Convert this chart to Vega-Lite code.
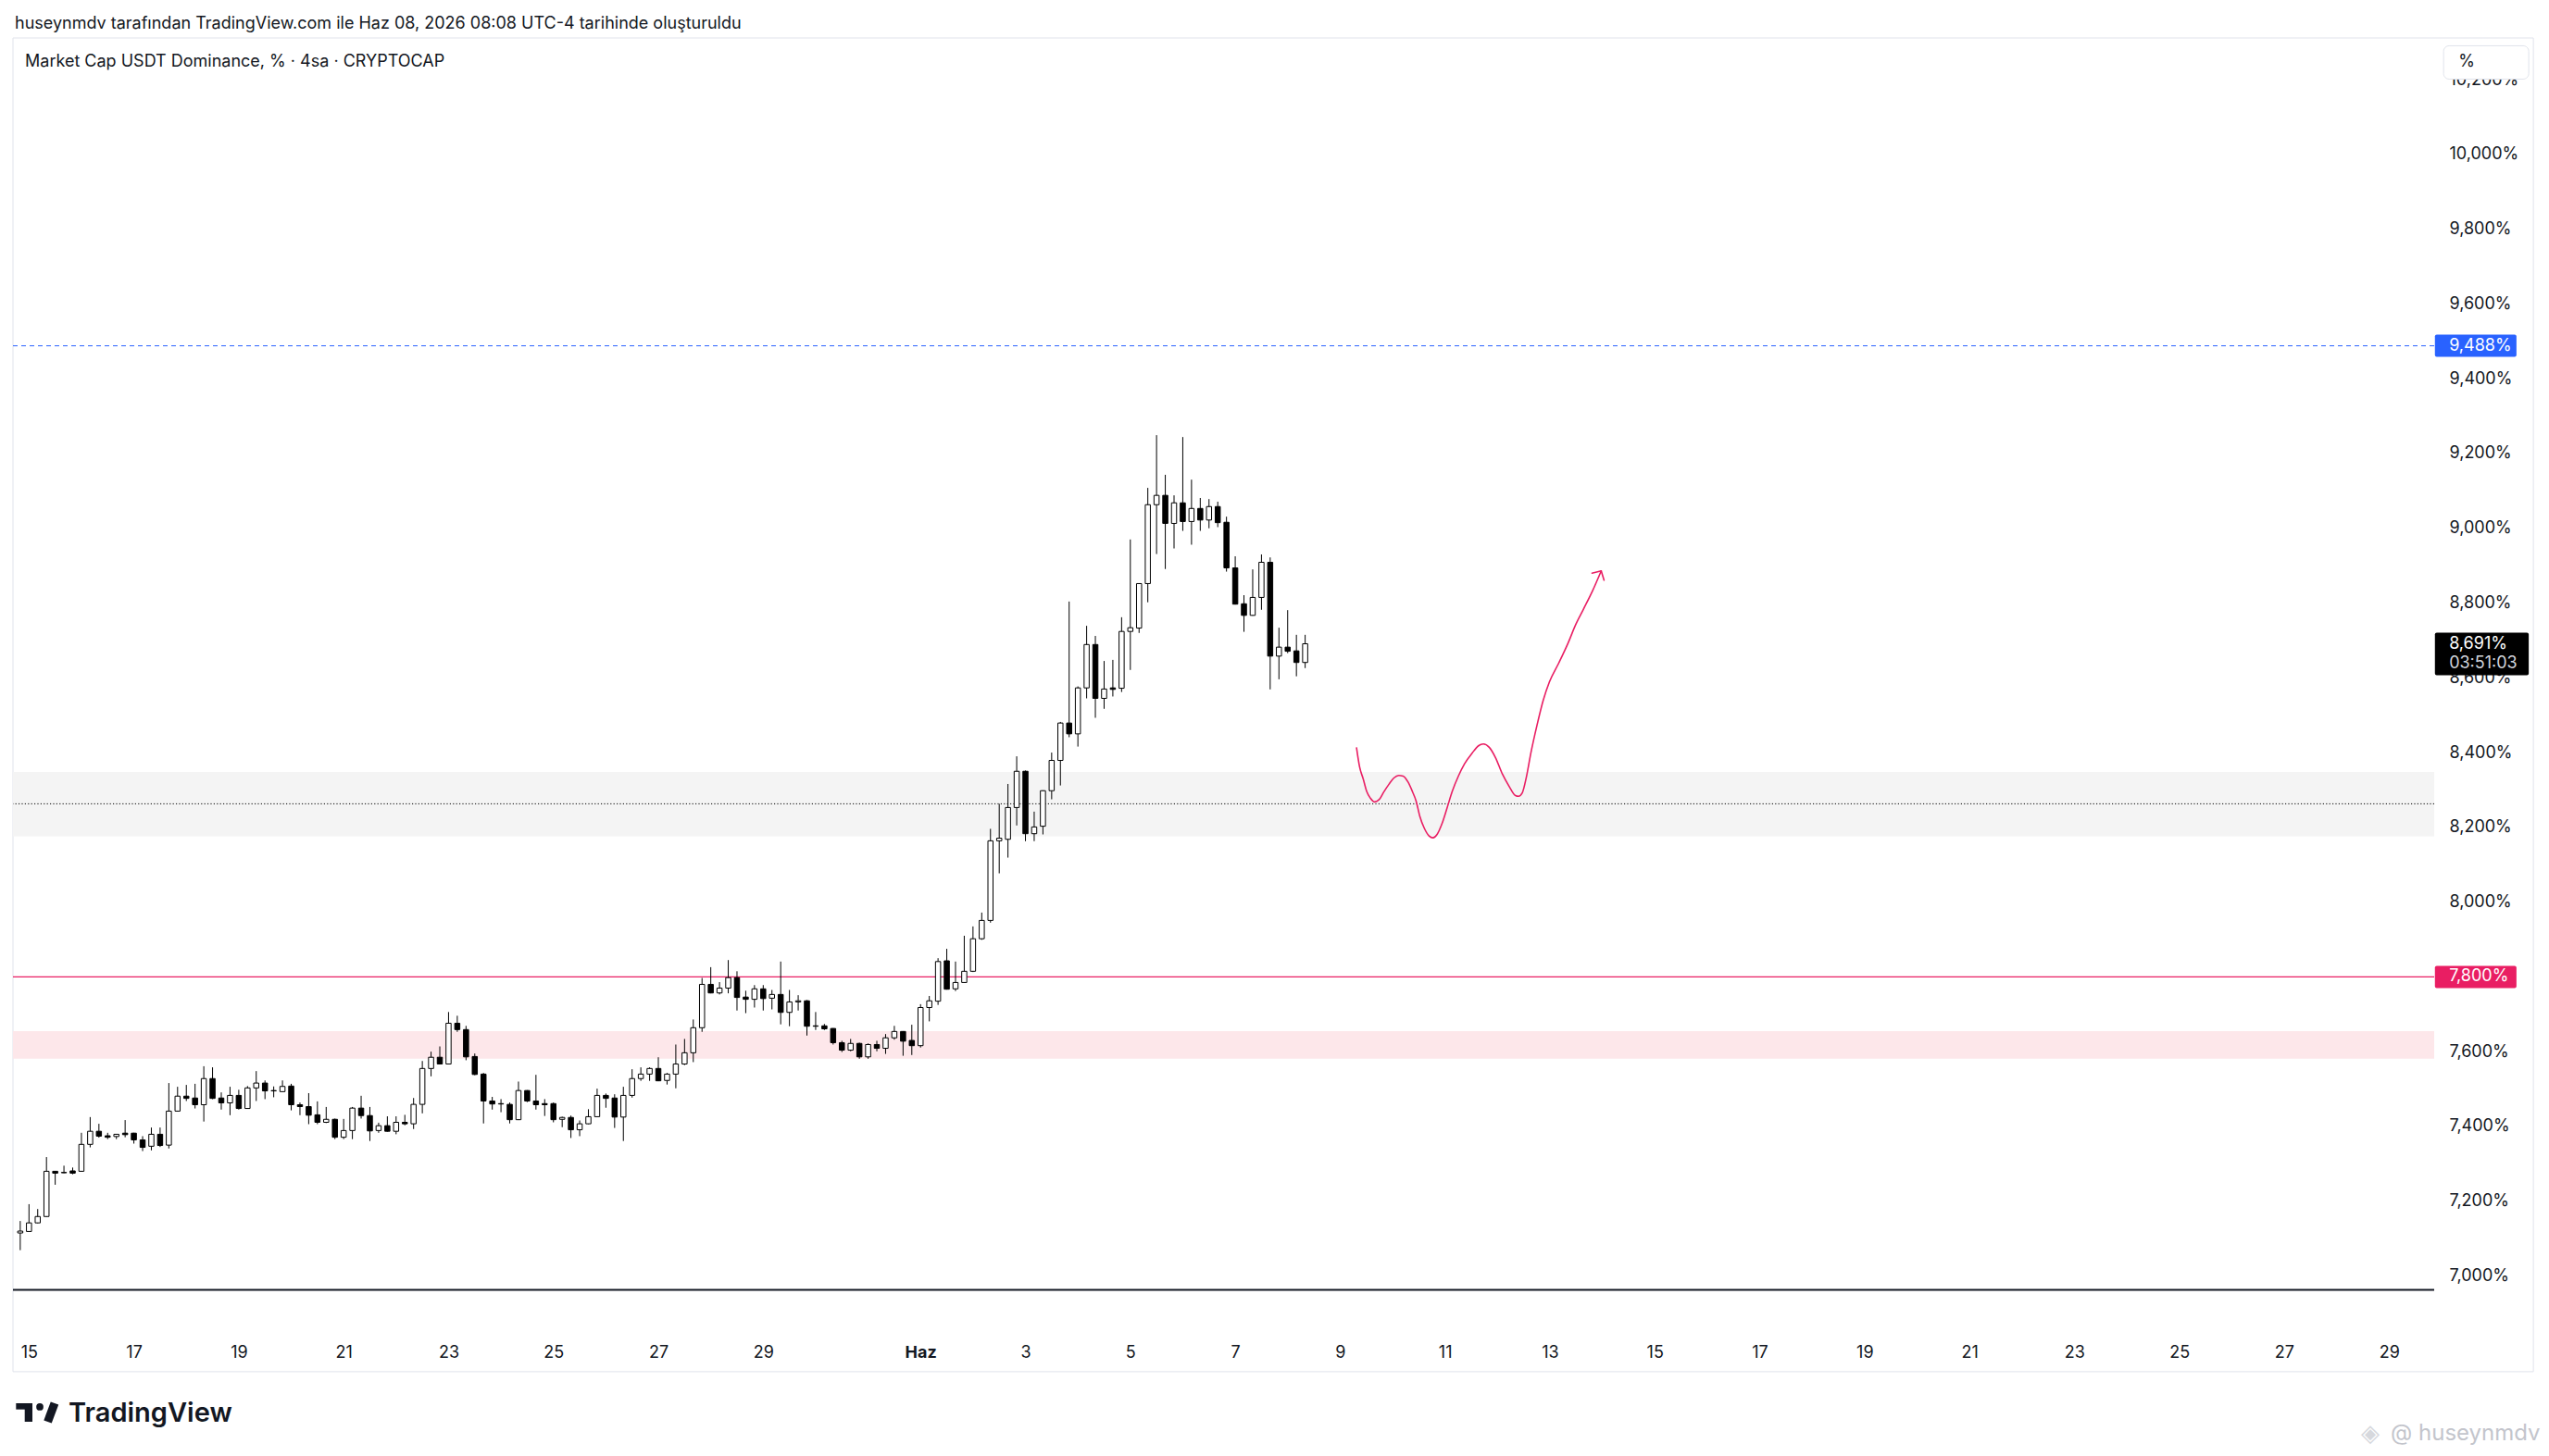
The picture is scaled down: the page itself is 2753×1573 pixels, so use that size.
{
  "$schema": "https://vega.github.io/schema/vega-lite/v6.json",
  "description": "Market Cap USDT Dominance, 4h candles with drawn zones and levels",
  "width": 2615,
  "height": 1390,
  "autosize": "none",
  "padding": {"left": 14, "top": 41, "right": 124, "bottom": 142},
  "background": "#ffffff",
  "title": {
    "text": "huseynmdv tarafından TradingView.com ile Haz 08, 2026 08:08 UTC-4 tarihinde oluşturuldu",
    "anchor": "start",
    "frame": "group",
    "fontSize": 18,
    "fontWeight": "normal",
    "color": "#131722",
    "offset": 6,
    "dx": 2
  },
  "config": {"view": {"stroke": null}, "font": "Inter"},
  "datasets": {
    "candles": [
      {"t":"2026-05-14T20:00Z","o":7.115,"h":7.147,"l":7.069,"c":7.120},
      {"t":"2026-05-15T00:00Z","o":7.119,"h":7.192,"l":7.118,"c":7.142},
      {"t":"2026-05-15T04:00Z","o":7.142,"h":7.179,"l":7.141,"c":7.159},
      {"t":"2026-05-15T08:00Z","o":7.159,"h":7.318,"l":7.158,"c":7.280},
      {"t":"2026-05-15T12:00Z","o":7.280,"h":7.281,"l":7.244,"c":7.275},
      {"t":"2026-05-15T16:00Z","o":7.276,"h":7.295,"l":7.275,"c":7.277},
      {"t":"2026-05-15T20:00Z","o":7.281,"h":7.290,"l":7.272,"c":7.275},
      {"t":"2026-05-16T00:00Z","o":7.280,"h":7.383,"l":7.279,"c":7.352},
      {"t":"2026-05-16T04:00Z","o":7.352,"h":7.425,"l":7.344,"c":7.387},
      {"t":"2026-05-16T08:00Z","o":7.387,"h":7.407,"l":7.370,"c":7.374},
      {"t":"2026-05-16T12:00Z","o":7.375,"h":7.383,"l":7.366,"c":7.371},
      {"t":"2026-05-16T16:00Z","o":7.373,"h":7.380,"l":7.366,"c":7.379},
      {"t":"2026-05-16T20:00Z","o":7.382,"h":7.417,"l":7.371,"c":7.378},
      {"t":"2026-05-17T00:00Z","o":7.382,"h":7.383,"l":7.354,"c":7.364},
      {"t":"2026-05-17T04:00Z","o":7.364,"h":7.374,"l":7.334,"c":7.344},
      {"t":"2026-05-17T08:00Z","o":7.347,"h":7.397,"l":7.336,"c":7.379},
      {"t":"2026-05-17T12:00Z","o":7.379,"h":7.397,"l":7.345,"c":7.349},
      {"t":"2026-05-17T16:00Z","o":7.350,"h":7.516,"l":7.341,"c":7.441},
      {"t":"2026-05-17T20:00Z","o":7.441,"h":7.506,"l":7.440,"c":7.481},
      {"t":"2026-05-18T00:00Z","o":7.481,"h":7.511,"l":7.468,"c":7.475},
      {"t":"2026-05-18T04:00Z","o":7.476,"h":7.514,"l":7.448,"c":7.458},
      {"t":"2026-05-18T08:00Z","o":7.458,"h":7.561,"l":7.413,"c":7.528},
      {"t":"2026-05-18T12:00Z","o":7.528,"h":7.558,"l":7.473,"c":7.475},
      {"t":"2026-05-18T16:00Z","o":7.476,"h":7.491,"l":7.445,"c":7.463},
      {"t":"2026-05-18T20:00Z","o":7.463,"h":7.506,"l":7.430,"c":7.483},
      {"t":"2026-05-19T00:00Z","o":7.483,"h":7.498,"l":7.445,"c":7.448},
      {"t":"2026-05-19T04:00Z","o":7.448,"h":7.508,"l":7.447,"c":7.503},
      {"t":"2026-05-19T08:00Z","o":7.503,"h":7.548,"l":7.468,"c":7.516},
      {"t":"2026-05-19T12:00Z","o":7.516,"h":7.523,"l":7.473,"c":7.495},
      {"t":"2026-05-19T16:00Z","o":7.495,"h":7.507,"l":7.478,"c":7.496},
      {"t":"2026-05-19T20:00Z","o":7.493,"h":7.523,"l":7.492,"c":7.507},
      {"t":"2026-05-20T00:00Z","o":7.508,"h":7.514,"l":7.443,"c":7.458},
      {"t":"2026-05-20T04:00Z","o":7.458,"h":7.464,"l":7.430,"c":7.453},
      {"t":"2026-05-20T08:00Z","o":7.453,"h":7.489,"l":7.406,"c":7.430},
      {"t":"2026-05-20T12:00Z","o":7.431,"h":7.467,"l":7.406,"c":7.411},
      {"t":"2026-05-20T16:00Z","o":7.411,"h":7.452,"l":7.409,"c":7.419},
      {"t":"2026-05-20T20:00Z","o":7.419,"h":7.421,"l":7.366,"c":7.371},
      {"t":"2026-05-21T00:00Z","o":7.371,"h":7.420,"l":7.366,"c":7.389},
      {"t":"2026-05-21T04:00Z","o":7.389,"h":7.452,"l":7.366,"c":7.449},
      {"t":"2026-05-21T08:00Z","o":7.449,"h":7.482,"l":7.421,"c":7.429},
      {"t":"2026-05-21T12:00Z","o":7.429,"h":7.452,"l":7.361,"c":7.388},
      {"t":"2026-05-21T16:00Z","o":7.389,"h":7.410,"l":7.383,"c":7.402},
      {"t":"2026-05-21T20:00Z","o":7.402,"h":7.427,"l":7.386,"c":7.387},
      {"t":"2026-05-22T00:00Z","o":7.387,"h":7.427,"l":7.379,"c":7.411},
      {"t":"2026-05-22T04:00Z","o":7.411,"h":7.431,"l":7.403,"c":7.407},
      {"t":"2026-05-22T08:00Z","o":7.407,"h":7.476,"l":7.393,"c":7.459},
      {"t":"2026-05-22T12:00Z","o":7.459,"h":7.575,"l":7.435,"c":7.555},
      {"t":"2026-05-22T16:00Z","o":7.555,"h":7.600,"l":7.534,"c":7.585},
      {"t":"2026-05-22T20:00Z","o":7.585,"h":7.614,"l":7.566,"c":7.567},
      {"t":"2026-05-23T00:00Z","o":7.567,"h":7.706,"l":7.566,"c":7.676},
      {"t":"2026-05-23T04:00Z","o":7.676,"h":7.696,"l":7.653,"c":7.659},
      {"t":"2026-05-23T08:00Z","o":7.659,"h":7.669,"l":7.577,"c":7.586},
      {"t":"2026-05-23T12:00Z","o":7.587,"h":7.595,"l":7.537,"c":7.539},
      {"t":"2026-05-23T16:00Z","o":7.540,"h":7.543,"l":7.408,"c":7.468},
      {"t":"2026-05-23T20:00Z","o":7.468,"h":7.479,"l":7.445,"c":7.460},
      {"t":"2026-05-24T00:00Z","o":7.460,"h":7.473,"l":7.438,"c":7.461},
      {"t":"2026-05-24T04:00Z","o":7.459,"h":7.464,"l":7.408,"c":7.418},
      {"t":"2026-05-24T08:00Z","o":7.418,"h":7.520,"l":7.417,"c":7.496},
      {"t":"2026-05-24T12:00Z","o":7.496,"h":7.497,"l":7.465,"c":7.468},
      {"t":"2026-05-24T16:00Z","o":7.468,"h":7.538,"l":7.445,"c":7.458},
      {"t":"2026-05-24T20:00Z","o":7.461,"h":7.473,"l":7.428,"c":7.458},
      {"t":"2026-05-25T00:00Z","o":7.461,"h":7.464,"l":7.411,"c":7.418},
      {"t":"2026-05-25T04:00Z","o":7.419,"h":7.426,"l":7.398,"c":7.424},
      {"t":"2026-05-25T08:00Z","o":7.424,"h":7.429,"l":7.369,"c":7.391},
      {"t":"2026-05-25T12:00Z","o":7.391,"h":7.416,"l":7.374,"c":7.407},
      {"t":"2026-05-25T16:00Z","o":7.407,"h":7.446,"l":7.406,"c":7.426},
      {"t":"2026-05-25T20:00Z","o":7.426,"h":7.501,"l":7.425,"c":7.483},
      {"t":"2026-05-26T00:00Z","o":7.483,"h":7.488,"l":7.450,"c":7.475},
      {"t":"2026-05-26T04:00Z","o":7.476,"h":7.486,"l":7.396,"c":7.425},
      {"t":"2026-05-26T08:00Z","o":7.425,"h":7.506,"l":7.361,"c":7.483},
      {"t":"2026-05-26T12:00Z","o":7.483,"h":7.553,"l":7.477,"c":7.528},
      {"t":"2026-05-26T16:00Z","o":7.528,"h":7.558,"l":7.522,"c":7.540},
      {"t":"2026-05-26T20:00Z","o":7.540,"h":7.558,"l":7.522,"c":7.555},
      {"t":"2026-05-27T00:00Z","o":7.555,"h":7.585,"l":7.521,"c":7.522},
      {"t":"2026-05-27T04:00Z","o":7.523,"h":7.543,"l":7.512,"c":7.540},
      {"t":"2026-05-27T08:00Z","o":7.540,"h":7.619,"l":7.502,"c":7.567},
      {"t":"2026-05-27T12:00Z","o":7.567,"h":7.634,"l":7.564,"c":7.597},
      {"t":"2026-05-27T16:00Z","o":7.597,"h":7.686,"l":7.572,"c":7.664},
      {"t":"2026-05-27T20:00Z","o":7.664,"h":7.797,"l":7.653,"c":7.780},
      {"t":"2026-05-28T00:00Z","o":7.780,"h":7.826,"l":7.756,"c":7.757},
      {"t":"2026-05-28T04:00Z","o":7.757,"h":7.786,"l":7.753,"c":7.770},
      {"t":"2026-05-28T08:00Z","o":7.770,"h":7.845,"l":7.756,"c":7.798},
      {"t":"2026-05-28T12:00Z","o":7.798,"h":7.815,"l":7.710,"c":7.745},
      {"t":"2026-05-28T16:00Z","o":7.746,"h":7.763,"l":7.703,"c":7.740},
      {"t":"2026-05-28T20:00Z","o":7.740,"h":7.778,"l":7.718,"c":7.768},
      {"t":"2026-05-29T00:00Z","o":7.768,"h":7.778,"l":7.710,"c":7.742},
      {"t":"2026-05-29T04:00Z","o":7.743,"h":7.765,"l":7.713,"c":7.753},
      {"t":"2026-05-29T08:00Z","o":7.753,"h":7.841,"l":7.673,"c":7.705},
      {"t":"2026-05-29T12:00Z","o":7.705,"h":7.765,"l":7.668,"c":7.733},
      {"t":"2026-05-29T16:00Z","o":7.733,"h":7.751,"l":7.710,"c":7.736},
      {"t":"2026-05-29T20:00Z","o":7.736,"h":7.738,"l":7.643,"c":7.668},
      {"t":"2026-05-30T00:00Z","o":7.668,"h":7.706,"l":7.658,"c":7.669},
      {"t":"2026-05-30T04:00Z","o":7.669,"h":7.674,"l":7.658,"c":7.661},
      {"t":"2026-05-30T08:00Z","o":7.662,"h":7.663,"l":7.619,"c":7.624},
      {"t":"2026-05-30T12:00Z","o":7.624,"h":7.629,"l":7.599,"c":7.604},
      {"t":"2026-05-30T16:00Z","o":7.604,"h":7.634,"l":7.601,"c":7.622},
      {"t":"2026-05-30T20:00Z","o":7.622,"h":7.624,"l":7.581,"c":7.586},
      {"t":"2026-05-31T00:00Z","o":7.586,"h":7.622,"l":7.581,"c":7.619},
      {"t":"2026-05-31T04:00Z","o":7.619,"h":7.629,"l":7.601,"c":7.609},
      {"t":"2026-05-31T08:00Z","o":7.609,"h":7.647,"l":7.594,"c":7.637},
      {"t":"2026-05-31T12:00Z","o":7.637,"h":7.669,"l":7.632,"c":7.654},
      {"t":"2026-05-31T16:00Z","o":7.654,"h":7.655,"l":7.589,"c":7.628},
      {"t":"2026-05-31T20:00Z","o":7.630,"h":7.672,"l":7.591,"c":7.616},
      {"t":"2026-06-01T00:00Z","o":7.616,"h":7.727,"l":7.611,"c":7.718},
      {"t":"2026-06-01T04:00Z","o":7.718,"h":7.749,"l":7.681,"c":7.736},
      {"t":"2026-06-01T08:00Z","o":7.735,"h":7.850,"l":7.725,"c":7.841},
      {"t":"2026-06-01T12:00Z","o":7.843,"h":7.875,"l":7.766,"c":7.767},
      {"t":"2026-06-01T16:00Z","o":7.768,"h":7.841,"l":7.762,"c":7.785},
      {"t":"2026-06-01T20:00Z","o":7.785,"h":7.910,"l":7.784,"c":7.815},
      {"t":"2026-06-02T00:00Z","o":7.815,"h":7.935,"l":7.813,"c":7.902},
      {"t":"2026-06-02T04:00Z","o":7.902,"h":7.972,"l":7.899,"c":7.951},
      {"t":"2026-06-02T08:00Z","o":7.951,"h":8.196,"l":7.945,"c":8.164},
      {"t":"2026-06-02T12:00Z","o":8.164,"h":8.263,"l":8.077,"c":8.171},
      {"t":"2026-06-02T16:00Z","o":8.168,"h":8.316,"l":8.119,"c":8.253},
      {"t":"2026-06-02T20:00Z","o":8.253,"h":8.390,"l":8.205,"c":8.350},
      {"t":"2026-06-03T00:00Z","o":8.350,"h":8.352,"l":8.163,"c":8.183},
      {"t":"2026-06-03T04:00Z","o":8.183,"h":8.242,"l":8.163,"c":8.201},
      {"t":"2026-06-03T08:00Z","o":8.203,"h":8.299,"l":8.181,"c":8.298},
      {"t":"2026-06-03T12:00Z","o":8.298,"h":8.400,"l":8.275,"c":8.379},
      {"t":"2026-06-03T16:00Z","o":8.379,"h":8.482,"l":8.312,"c":8.479},
      {"t":"2026-06-03T20:00Z","o":8.479,"h":8.804,"l":8.441,"c":8.450},
      {"t":"2026-06-04T00:00Z","o":8.450,"h":8.577,"l":8.416,"c":8.573},
      {"t":"2026-06-04T04:00Z","o":8.573,"h":8.739,"l":8.545,"c":8.689},
      {"t":"2026-06-04T08:00Z","o":8.689,"h":8.712,"l":8.493,"c":8.545},
      {"t":"2026-06-04T12:00Z","o":8.545,"h":8.645,"l":8.517,"c":8.570},
      {"t":"2026-06-04T16:00Z","o":8.573,"h":8.648,"l":8.550,"c":8.569},
      {"t":"2026-06-04T20:00Z","o":8.572,"h":8.762,"l":8.562,"c":8.724},
      {"t":"2026-06-05T00:00Z","o":8.724,"h":8.970,"l":8.621,"c":8.734},
      {"t":"2026-06-05T04:00Z","o":8.733,"h":8.853,"l":8.720,"c":8.852},
      {"t":"2026-06-05T08:00Z","o":8.852,"h":9.108,"l":8.802,"c":9.063},
      {"t":"2026-06-05T12:00Z","o":9.063,"h":9.249,"l":8.931,"c":9.088},
      {"t":"2026-06-05T16:00Z","o":9.088,"h":9.143,"l":8.891,"c":9.013},
      {"t":"2026-06-05T20:00Z","o":9.013,"h":9.088,"l":8.946,"c":9.068},
      {"t":"2026-06-06T00:00Z","o":9.068,"h":9.244,"l":8.993,"c":9.018},
      {"t":"2026-06-06T04:00Z","o":9.018,"h":9.130,"l":8.956,"c":9.053},
      {"t":"2026-06-06T08:00Z","o":9.053,"h":9.081,"l":8.993,"c":9.022},
      {"t":"2026-06-06T12:00Z","o":9.022,"h":9.078,"l":9.000,"c":9.058},
      {"t":"2026-06-06T16:00Z","o":9.058,"h":9.071,"l":9.003,"c":9.015},
      {"t":"2026-06-06T20:00Z","o":9.016,"h":9.031,"l":8.884,"c":8.894},
      {"t":"2026-06-07T00:00Z","o":8.894,"h":8.925,"l":8.796,"c":8.797},
      {"t":"2026-06-07T04:00Z","o":8.798,"h":8.821,"l":8.723,"c":8.767},
      {"t":"2026-06-07T08:00Z","o":8.767,"h":8.890,"l":8.766,"c":8.815},
      {"t":"2026-06-07T12:00Z","o":8.815,"h":8.930,"l":8.782,"c":8.909},
      {"t":"2026-06-07T16:00Z","o":8.909,"h":8.922,"l":8.569,"c":8.658},
      {"t":"2026-06-07T20:00Z","o":8.658,"h":8.734,"l":8.596,"c":8.682},
      {"t":"2026-06-08T00:00Z","o":8.682,"h":8.781,"l":8.666,"c":8.671},
      {"t":"2026-06-08T04:00Z","o":8.672,"h":8.715,"l":8.604,"c":8.641},
      {"t":"2026-06-08T08:00Z","o":8.641,"h":8.715,"l":8.626,"c":8.691}
    ],
    "curve": [
      {"t":"2026-06-09T07:29Z","v":8.414},
      {"t":"2026-06-09T08:54Z","v":8.362},
      {"t":"2026-06-09T10:36Z","v":8.329},
      {"t":"2026-06-09T12:10Z","v":8.296},
      {"t":"2026-06-09T13:51Z","v":8.278},
      {"t":"2026-06-09T15:42Z","v":8.268},
      {"t":"2026-06-09T17:49Z","v":8.274},
      {"t":"2026-06-09T19:55Z","v":8.294},
      {"t":"2026-06-09T22:19Z","v":8.315},
      {"t":"2026-06-10T00:35Z","v":8.332},
      {"t":"2026-06-10T02:51Z","v":8.339},
      {"t":"2026-06-10T04:50Z","v":8.337},
      {"t":"2026-06-10T07:05Z","v":8.321},
      {"t":"2026-06-10T09:04Z","v":8.296},
      {"t":"2026-06-10T10:45Z","v":8.271},
      {"t":"2026-06-10T12:27Z","v":8.230},
      {"t":"2026-06-10T14:34Z","v":8.197},
      {"t":"2026-06-10T16:42Z","v":8.177},
      {"t":"2026-06-10T18:31Z","v":8.172},
      {"t":"2026-06-10T20:22Z","v":8.181},
      {"t":"2026-06-10T22:38Z","v":8.210},
      {"t":"2026-06-11T00:54Z","v":8.251},
      {"t":"2026-06-11T03:18Z","v":8.296},
      {"t":"2026-06-11T06:07Z","v":8.337},
      {"t":"2026-06-11T08:57Z","v":8.370},
      {"t":"2026-06-11T12:28Z","v":8.399},
      {"t":"2026-06-11T15:17Z","v":8.418},
      {"t":"2026-06-11T17:33Z","v":8.423},
      {"t":"2026-06-11T20:14Z","v":8.414},
      {"t":"2026-06-11T23:04Z","v":8.387},
      {"t":"2026-06-12T02:18Z","v":8.342},
      {"t":"2026-06-12T05:25Z","v":8.309},
      {"t":"2026-06-12T08:15Z","v":8.285},
      {"t":"2026-06-12T09:39Z","v":8.283},
      {"t":"2026-06-12T11:21Z","v":8.292},
      {"t":"2026-06-12T13:11Z","v":8.333},
      {"t":"2026-06-12T15:18Z","v":8.399},
      {"t":"2026-06-12T18:08Z","v":8.474},
      {"t":"2026-06-12T20:57Z","v":8.540},
      {"t":"2026-06-12T23:46Z","v":8.589},
      {"t":"2026-06-13T04:01Z","v":8.639},
      {"t":"2026-06-13T08:15Z","v":8.692},
      {"t":"2026-06-13T11:47Z","v":8.742},
      {"t":"2026-06-13T15:19Z","v":8.783},
      {"t":"2026-06-13T19:33Z","v":8.833},
      {"t":"2026-06-13T23:29Z","v":8.886}
    ]
  },
  "layer": [
    {
      "data": {"values": [{"pane": "grafik"}]},
      "mark": {"type": "rect", "filled": false, "color": "#e0e3eb", "strokeWidth": 1},
      "encoding": {
        "x": {"datum": {"year": 2026, "month": 5, "date": 14, "hours": 16, "minutes": 40, "utc": true}, "type": "temporal", "title": null},
        "x2": {"datum": {"year": 2026, "month": 7, "date": 1, "hours": 18, "minutes": 3, "utc": true}},
        "y": {"datum": 10.3115, "type": "quantitative", "title": null},
        "y2": {"datum": 6.744}
      }
    },
    {
      "data": {"values": [
        {"zone": "gri", "lo": 8.176, "hi": 8.348},
        {"zone": "pembe", "lo": 7.581, "hi": 7.655}
      ]},
      "mark": {"type": "rect"},
      "encoding": {
        "x": {"datum": {"year": 2026, "month": 5, "date": 14, "hours": 16, "minutes": 40, "utc": true}, "type": "temporal", "title": null},
        "x2": {"datum": {"year": 2026, "month": 6, "date": 29, "hours": 20, "minutes": 40, "utc": true}},
        "y": {"field": "hi", "type": "quantitative", "title": null},
        "y2": {"field": "lo"},
        "fill": {"field": "zone", "type": "nominal", "scale": {"domain": ["gri", "pembe"], "range": ["#f4f4f4", "#fde7ea"]}, "legend": null}
      }
    },
    {
      "data": {"values": [{"v": 8.263}]},
      "mark": {"type": "rule", "color": "#000000", "strokeDash": [1.2, 2.2], "strokeWidth": 1},
      "encoding": {"y": {"field": "v", "type": "quantitative", "title": null}}
    },
    {
      "data": {"values": [{"v": 9.488}]},
      "mark": {"type": "rule", "color": "#2962ff", "strokeDash": [5, 4], "strokeWidth": 1},
      "encoding": {"y": {"field": "v", "type": "quantitative", "title": null}}
    },
    {
      "data": {"values": [{"v": 7.8}]},
      "mark": {"type": "rule", "color": "#e91e63", "strokeWidth": 1.2},
      "encoding": {"y": {"field": "v", "type": "quantitative", "title": null}}
    },
    {
      "data": {"values": [{"v": 6.963}]},
      "mark": {"type": "rule", "color": "#131722", "strokeWidth": 2},
      "encoding": {"y": {"field": "v", "type": "quantitative", "title": null}}
    },
    {
      "data": {"name": "candles"},
      "mark": {"type": "rule", "color": "#000000", "strokeWidth": 1},
      "encoding": {
        "x": {
          "field": "t",
          "type": "temporal",
          "title": null,
          "scale": {
            "domain": [
              {"year": 2026, "month": 5, "date": 14, "hours": 16, "minutes": 40, "utc": true},
              {"year": 2026, "month": 6, "date": 29, "hours": 20, "minutes": 40, "utc": true}
            ],
            "nice": false,
            "padding": 0
          },
          "axis": {
            "values": [
              {"year": 2026, "month": 5, "date": 15, "utc": true},
              {"year": 2026, "month": 5, "date": 17, "utc": true},
              {"year": 2026, "month": 5, "date": 19, "utc": true},
              {"year": 2026, "month": 5, "date": 21, "utc": true},
              {"year": 2026, "month": 5, "date": 23, "utc": true},
              {"year": 2026, "month": 5, "date": 25, "utc": true},
              {"year": 2026, "month": 5, "date": 27, "utc": true},
              {"year": 2026, "month": 5, "date": 29, "utc": true},
              {"year": 2026, "month": 6, "date": 1, "utc": true},
              {"year": 2026, "month": 6, "date": 3, "utc": true},
              {"year": 2026, "month": 6, "date": 5, "utc": true},
              {"year": 2026, "month": 6, "date": 7, "utc": true},
              {"year": 2026, "month": 6, "date": 9, "utc": true},
              {"year": 2026, "month": 6, "date": 11, "utc": true},
              {"year": 2026, "month": 6, "date": 13, "utc": true},
              {"year": 2026, "month": 6, "date": 15, "utc": true},
              {"year": 2026, "month": 6, "date": 17, "utc": true},
              {"year": 2026, "month": 6, "date": 19, "utc": true},
              {"year": 2026, "month": 6, "date": 21, "utc": true},
              {"year": 2026, "month": 6, "date": 23, "utc": true},
              {"year": 2026, "month": 6, "date": 25, "utc": true},
              {"year": 2026, "month": 6, "date": 27, "utc": true},
              {"year": 2026, "month": 6, "date": 29, "utc": true}
            ],
            "labelExpr": "utcdate(datum.value) == 1 ? 'Haz' : '' + utcdate(datum.value)",
            "labelFontWeight": {"condition": {"test": "utcdate(datum.value) == 1", "value": "bold"}, "value": "normal"},
            "labelFontSize": 18,
            "labelColor": "#131722",
            "labelPadding": 21,
            "labelOverlap": false,
            "labelFlush": false,
            "ticks": false,
            "domain": false,
            "grid": false,
            "title": null
          }
        },
        "y": {
          "field": "l",
          "type": "quantitative",
          "title": null,
          "scale": {"domain": [6.87, 10.3115], "nice": false, "zero": false, "padding": 0},
          "axis": {
            "orient": "right",
            "values": [7, 7.2, 7.4, 7.6, 7.8, 8, 8.2, 8.4, 8.6, 8.8, 9, 9.2, 9.4, 9.6, 9.8, 10, 10.2],
            "labelExpr": "replace(format(datum.value, '.3f'), '.', ',') + '%'",
            "labelFontSize": 18,
            "labelColor": "#131722",
            "labelAlign": "left",
            "labelPadding": 16,
            "ticks": false,
            "domain": false,
            "grid": false,
            "title": null
          }
        },
        "y2": {"field": "h"}
      }
    },
    {
      "data": {"name": "candles"},
      "mark": {"type": "bar", "size": 5.5, "stroke": "#000000", "strokeWidth": 1},
      "encoding": {
        "x": {"field": "t", "type": "temporal", "title": null},
        "y": {"field": "o", "type": "quantitative", "title": null},
        "y2": {"field": "c"},
        "fill": {"condition": {"test": "datum.c < datum.o", "value": "#000000"}, "value": "#ffffff"}
      }
    },
    {
      "data": {"name": "curve"},
      "mark": {"type": "line", "color": "#e91e63", "strokeWidth": 1.6, "interpolate": "monotone"},
      "encoding": {
        "x": {"field": "t", "type": "temporal", "title": null},
        "y": {"field": "v", "type": "quantitative", "title": null}
      }
    },
    {
      "data": {"values": [
        {"t": "2026-06-13T23:29Z", "v": 8.886, "t2": "2026-06-13T19:16Z", "v2": 8.880},
        {"t": "2026-06-13T23:29Z", "v": 8.886, "t2": "2026-06-14T00:46Z", "v2": 8.861}
      ]},
      "mark": {"type": "rule", "color": "#e91e63", "strokeWidth": 1.6, "strokeCap": "round"},
      "encoding": {
        "x": {"field": "t", "type": "temporal", "title": null},
        "x2": {"field": "t2"},
        "y": {"field": "v", "type": "quantitative", "title": null},
        "y2": {"field": "v2"}
      }
    },
    {
      "data": {"values": [{"metin": "Market Cap USDT Dominance, % · 4sa · CRYPTOCAP"}]},
      "mark": {"type": "text", "align": "left", "baseline": "middle", "fontSize": 18, "color": "#131722"},
      "encoding": {
        "x": {"datum": {"year": 2026, "month": 5, "date": 14, "hours": 22, "minutes": 11, "utc": true}, "type": "temporal", "title": null},
        "y": {"datum": 10.246, "type": "quantitative", "title": null},
        "text": {"field": "metin"}
      }
    },
    {
      "data": {"values": [{"parca": "logo"}]},
      "layer": [
        {
          "mark": {"type": "rect", "color": "#131722"},
          "encoding": {
            "x": {"datum": {"year": 2026, "month": 5, "date": 14, "hours": 18, "minutes": 4, "utc": true}, "type": "temporal", "title": null},
            "x2": {"datum": {"year": 2026, "month": 5, "date": 15, "hours": 1, "minutes": 34, "utc": true}},
            "y": {"datum": 6.6596, "type": "quantitative", "title": null},
            "y2": {"datum": 6.643}
          }
        },
        {
          "mark": {"type": "rect", "color": "#131722"},
          "encoding": {
            "x": {"datum": {"year": 2026, "month": 5, "date": 14, "hours": 22, "minutes": 3, "utc": true}, "type": "temporal", "title": null},
            "x2": {"datum": {"year": 2026, "month": 5, "date": 15, "hours": 1, "minutes": 34, "utc": true}},
            "y": {"datum": 6.6596, "type": "quantitative", "title": null},
            "y2": {"datum": 6.61}
          }
        },
        {
          "mark": {"type": "point", "filled": true, "size": 60, "color": "#131722", "opacity": 1},
          "encoding": {
            "x": {"datum": {"year": 2026, "month": 5, "date": 15, "hours": 4, "minutes": 58, "utc": true}, "type": "temporal", "title": null},
            "y": {"datum": 6.6497, "type": "quantitative", "title": null}
          }
        },
        {
          "mark": {"type": "rule", "color": "#131722", "strokeWidth": 9, "strokeCap": "butt"},
          "encoding": {
            "x": {"datum": {"year": 2026, "month": 5, "date": 15, "hours": 11, "minutes": 44, "utc": true}, "type": "temporal", "title": null},
            "x2": {"datum": {"year": 2026, "month": 5, "date": 15, "hours": 8, "minutes": 34, "utc": true}},
            "y": {"datum": 6.6596, "type": "quantitative", "title": null},
            "y2": {"datum": 6.61}
          }
        }
      ]
    },
    {
      "data": {"values": [{"metin": "TradingView"}]},
      "mark": {"type": "text", "align": "left", "baseline": "middle", "fontSize": 29, "fontWeight": 600, "color": "#131722"},
      "encoding": {
        "x": {"datum": {"year": 2026, "month": 5, "date": 15, "hours": 18, "minutes": 6, "utc": true}, "type": "temporal", "title": null},
        "y": {"datum": 6.632, "type": "quantitative", "title": null},
        "text": {"field": "metin"}
      }
    },
    {
      "data": {"values": [{"metin": "@ huseynmdv", "simge": "◈"}]},
      "layer": [
        {
          "mark": {"type": "text", "align": "left", "baseline": "middle", "fontSize": 24, "color": "#c3c5cc"},
          "encoding": {
            "x": {"datum": {"year": 2026, "month": 6, "date": 29, "hours": 0, "minutes": 48, "utc": true}, "type": "temporal", "title": null},
            "y": {"datum": 6.578, "type": "quantitative", "title": null},
            "text": {"field": "metin"}
          }
        },
        {
          "mark": {"type": "text", "align": "center", "baseline": "middle", "fontSize": 26, "font": "DejaVu Sans", "color": "#d6d8dd"},
          "encoding": {
            "x": {"datum": {"year": 2026, "month": 6, "date": 28, "hours": 15, "minutes": 29, "utc": true}, "type": "temporal", "title": null},
            "y": {"datum": 6.578, "type": "quantitative", "title": null},
            "text": {"field": "simge"}
          }
        }
      ]
    },
    {
      "data": {"values": [
        {"v": 9.488, "etiket": "9,488%", "renk": "mavi"},
        {"v": 7.8, "etiket": "7,800%", "renk": "pembe"}
      ]},
      "layer": [
        {
          "mark": {"type": "bar", "size": 24, "cornerRadius": 2},
          "encoding": {
            "x": {"datum": {"year": 2026, "month": 6, "date": 29, "hours": 21, "minutes": 0, "utc": true}, "type": "temporal", "title": null},
            "x2": {"datum": {"year": 2026, "month": 7, "date": 1, "hours": 10, "minutes": 19, "utc": true}},
            "y": {"field": "v", "type": "quantitative", "title": null},
            "color": {"field": "renk", "type": "nominal", "scale": {"domain": ["mavi", "pembe"], "range": ["#2962ff", "#e91e63"]}, "legend": null}
          }
        },
        {
          "mark": {"type": "text", "align": "left", "baseline": "middle", "fontSize": 18, "color": "#ffffff"},
          "encoding": {
            "x": {"datum": {"year": 2026, "month": 6, "date": 30, "hours": 3, "minutes": 30, "utc": true}, "type": "temporal", "title": null},
            "y": {"field": "v", "type": "quantitative", "title": null},
            "text": {"field": "etiket"}
          }
        }
      ]
    },
    {
      "data": {"values": [{"v": 8.691, "fiyat": "8,691%", "sure": "03:51:03"}]},
      "layer": [
        {
          "mark": {"type": "bar", "size": 46, "yOffset": 11, "cornerRadius": 2, "color": "#000000"},
          "encoding": {
            "x": {"datum": {"year": 2026, "month": 6, "date": 29, "hours": 21, "minutes": 0, "utc": true}, "type": "temporal", "title": null},
            "x2": {"datum": {"year": 2026, "month": 7, "date": 1, "hours": 15, "minutes": 56, "utc": true}},
            "y": {"field": "v", "type": "quantitative", "title": null}
          }
        },
        {
          "mark": {"type": "text", "align": "left", "baseline": "middle", "fontSize": 18, "color": "#ffffff"},
          "encoding": {
            "x": {"datum": {"year": 2026, "month": 6, "date": 30, "hours": 3, "minutes": 30, "utc": true}, "type": "temporal", "title": null},
            "y": {"field": "v", "type": "quantitative", "title": null},
            "text": {"field": "fiyat"}
          }
        },
        {
          "mark": {"type": "text", "align": "left", "baseline": "middle", "fontSize": 18, "color": "#d1d4dc", "dy": 21},
          "encoding": {
            "x": {"datum": {"year": 2026, "month": 6, "date": 30, "hours": 3, "minutes": 30, "utc": true}, "type": "temporal", "title": null},
            "y": {"field": "v", "type": "quantitative", "title": null},
            "text": {"field": "sure"}
          }
        }
      ]
    },
    {
      "data": {"values": [{"birim": "%"}]},
      "layer": [
        {
          "mark": {"type": "bar", "size": 36, "cornerRadius": 6, "fill": "#ffffff", "stroke": "#e0e3eb", "strokeWidth": 1},
          "encoding": {
            "x": {"datum": {"year": 2026, "month": 6, "date": 30, "hours": 0, "minutes": 58, "utc": true}, "type": "temporal", "title": null},
            "x2": {"datum": {"year": 2026, "month": 7, "date": 1, "hours": 15, "minutes": 56, "utc": true}},
            "y": {"datum": 10.246, "type": "quantitative", "title": null}
          }
        },
        {
          "mark": {"type": "text", "align": "left", "baseline": "middle", "fontSize": 18, "color": "#131722"},
          "encoding": {
            "x": {"datum": {"year": 2026, "month": 6, "date": 30, "hours": 7, "minutes": 45, "utc": true}, "type": "temporal", "title": null},
            "y": {"datum": 10.2475, "type": "quantitative", "title": null},
            "text": {"field": "birim"}
          }
        }
      ]
    }
  ]
}
